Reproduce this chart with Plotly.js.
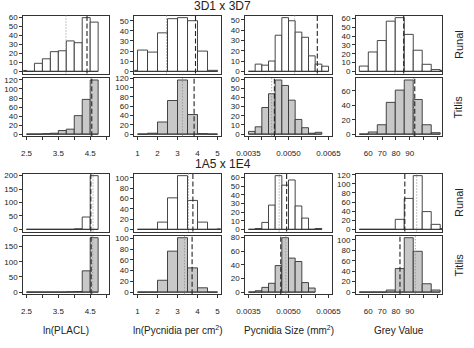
<!DOCTYPE html>
<html><head><meta charset="utf-8">
<script src="https://cdn.plot.ly/plotly-3.0.1.min.js"></script>
<style>html,body{margin:0;padding:0;background:#fff;} #chart{width:474px;height:348px;}</style>
</head><body><div id="chart"></div>
<script>
// ---- labels ----
const groupTitles = ['3D1 x 3D7', '1A5 x 1E4'];
const cultivars = ['Runal', 'Titlis'];
const traitTitles = ['ln(PLACL)', 'ln(Pycnidia per cm<sup>2</sup>)', 'Pycnidia Size (mm<sup>2</sup>)', 'Grey Value'];

// ---- bin widths (histogram breaks) ----
const placlBinWidth = 0.25;
const pycnBinWidth = 0.5;
const sizeBinWidth = 0.00025;
const greyBinWidth = 6.5;

// ---- histogram counts (left edge of first bin + counts) ----
const placl_3D1_Runal_start = 2.25;
const placl_3D1_Runal = [1, 0, 9, 14, 22, 23, 34, 32, 60, 55];
const placl_3D1_Titlis_start = 2.5;
const placl_3D1_Titlis = [0, 0, 1, 2, 8, 11, 41, 77, 120];
const placl_1A5_Runal_start = 2.5;
const placl_1A5_Runal = [0, 0, 0, 0, 0, 0, 2, 46, 200];
const placl_1A5_Titlis_start = 2.5;
const placl_1A5_Titlis = [0, 0, 0, 0, 0, 1, 2, 70, 179];

const pycn_3D1_Runal_start = 0.5;
const pycn_3D1_Runal = [1, 21, 19, 38, 52, 53, 50, 20, 1];
const pycn_3D1_Titlis_start = 1.0;
const pycn_3D1_Titlis = [0, 2, 26, 72, 116, 42, 1, 0];
const pycn_1A5_Runal_start = 1.0;
const pycn_1A5_Runal = [0, 0, 14, 61, 104, 56, 14, 0, 1];
const pycn_1A5_Titlis_start = 1.0;
const pycn_1A5_Titlis = [0, 0, 22, 76, 101, 45, 8, 0];

const size_3D1_Runal_start = 0.0035;
const size_3D1_Runal = [0, 7, 6, 10, 35, 52, 49, 38, 33, 15, 7, 5];
const size_3D1_Titlis_start = 0.0035;
const size_3D1_Titlis = [3, 8, 29, 44, 59, 53, 37, 16, 7, 1, 2];
const size_1A5_Runal_start = 0.0035;
const size_1A5_Runal = [0, 1, 8, 28, 62, 51, 57, 27, 13, 0, 1];
const size_1A5_Titlis_start = 0.0035;
const size_1A5_Titlis = [0, 2, 7, 13, 39, 80, 50, 45, 14, 6];

const grey_3D1_Runal_start = 53.5;
const grey_3D1_Runal = [6, 22, 35, 57, 61, 42, 24, 8, 2, 1];
const grey_3D1_Titlis_start = 53.5;
const grey_3D1_Titlis = [0, 3, 13, 44, 61, 75, 48, 13, 2];
const grey_1A5_Runal_start = 53.5;
const grey_1A5_Runal = [0, 0, 0, 0, 22, 68, 118, 39, 11, 2];
const grey_1A5_Titlis_start = 53.5;
const grey_1A5_Titlis = [0, 0, 0, 4, 45, 104, 78, 16, 4];

// ---- reference lines (dotted grey, dashed dark) per panel, row order: 3D1 Runal, 3D1 Titlis, 1A5 Runal, 1A5 Titlis ----
const placlDotted = [3.74, 4.52, 4.59, 4.58];
const placlDashed = [4.40, 4.55, 4.52, 4.53];
const pycnDotted = [2.45, 3.25, 3.55, 3.35];
const pycnDashed = [3.90, 3.83, 3.77, 3.73];
const sizeDotted = [0.00523, 0.00437, 0.00465, 0.00490];
const sizeDashed = [0.00608, 0.00447, 0.00493, 0.00471];
const greyDotted = [79.2, 92.6, 95.0, 94.0];
const greyDashed = [85.6, 93.6, 86.4, 82.9];

// ---- axes ----
const xRanges = [[2.4, 5.1], [0.84, 5.16], [0.00338, 0.00662], [51.1, 113.3]];
const xTickVals = [
  [2.5, 3.0, 3.5, 4.0, 4.5, 5.0],
  [1, 2, 3, 4, 5],
  [0.0035, 0.0040, 0.0045, 0.0050, 0.0055, 0.0060, 0.0065],
  [60, 70, 80, 90, 100, 110]
];
const xTickText = [
  ['2.5', '', '3.5', '', '4.5', ''],
  ['1', '2', '3', '4', '5'],
  ['0.0035', '', '', '0.0050', '', '', '0.0065'],
  ['60', '70', '80', '90', '', '']
];
const yDticks = [
  [10, 10, 10, 10],
  [20, 20, 10, 20],
  [50, 20, 10, 20],
  [50, 20, 20, 20]
];

// ---- assemble panels ----
const binWidths = [placlBinWidth, pycnBinWidth, sizeBinWidth, greyBinWidth];
const counts = [
  [placl_3D1_Runal, pycn_3D1_Runal, size_3D1_Runal, grey_3D1_Runal],
  [placl_3D1_Titlis, pycn_3D1_Titlis, size_3D1_Titlis, grey_3D1_Titlis],
  [placl_1A5_Runal, pycn_1A5_Runal, size_1A5_Runal, grey_1A5_Runal],
  [placl_1A5_Titlis, pycn_1A5_Titlis, size_1A5_Titlis, grey_1A5_Titlis]
];
const starts = [
  [placl_3D1_Runal_start, pycn_3D1_Runal_start, size_3D1_Runal_start, grey_3D1_Runal_start],
  [placl_3D1_Titlis_start, pycn_3D1_Titlis_start, size_3D1_Titlis_start, grey_3D1_Titlis_start],
  [placl_1A5_Runal_start, pycn_1A5_Runal_start, size_1A5_Runal_start, grey_1A5_Runal_start],
  [placl_1A5_Titlis_start, pycn_1A5_Titlis_start, size_1A5_Titlis_start, grey_1A5_Titlis_start]
];
const dotted = [placlDotted, pycnDotted, sizeDotted, greyDotted];
const dashed = [placlDashed, pycnDashed, sizeDashed, greyDashed];

const W = 474, H = 348;
const colPx = [[23.3, 109.3], [134.3, 220.7], [245.3, 331.7], [356, 442]];
const rowPx = [[15.5, 73.5], [77.8, 136.3], [173.5, 231.5], [235.5, 294.3]];
const fills = ['#ffffff', '#c8c8c8'];
const ink = '#333333';
const FONT = 'Liberation Sans, Arial, Helvetica, sans-serif';
const TICK = 8;

const traces = [];
const shapes = [];
const layout = {
  width: W, height: H, autosize: false,
  margin: {l: 0, r: 0, t: 0, b: 0},
  paper_bgcolor: '#ffffff', plot_bgcolor: '#ffffff',
  showlegend: false,
  font: {family: FONT, color: '#222'},
  annotations: []
};

let k = 0;
for (let r = 0; r < 4; r++) {
  for (let c = 0; c < 4; c++) {
    k++;
    const xa = k === 1 ? 'x' : 'x' + k;
    const ya = k === 1 ? 'y' : 'y' + k;
    const w = binWidths[c];
    const cnt = counts[r][c];
    const s0 = starts[r][c];
    const centers = cnt.map((_, i) => s0 + (i + 0.5) * w);
    const maxC = Math.max(...cnt);
    traces.push({
      type: 'bar', x: centers, y: cnt, width: cnt.map(() => w),
      xaxis: xa, yaxis: ya, hoverinfo: 'skip',
      marker: {color: fills[r % 2], line: {color: ink, width: 0.9}}
    });
    traces.push({
      type: 'scatter', mode: 'lines', x: [s0, s0 + cnt.length * w], y: [0, 0],
      xaxis: xa, yaxis: ya, hoverinfo: 'skip',
      line: {color: ink, width: 0.9}
    });
    const bottom = (r % 2 === 1);
    layout[k === 1 ? 'xaxis' : 'xaxis' + k] = {
      domain: [colPx[c][0] / W, colPx[c][1] / W],
      range: xRanges[c], anchor: ya,
      showline: true, mirror: true, linecolor: ink, linewidth: 1,
      showgrid: false, zeroline: false,
      ticks: bottom ? 'outside' : '', ticklen: 3, tickwidth: 1, tickcolor: ink,
      tickmode: 'array', tickvals: xTickVals[c], ticktext: xTickText[c],
      tickangle: 0, automargin: false,
      showticklabels: bottom, ticklabelstandoff: 6,
      tickfont: {size: TICK, color: '#222', family: FONT}, fixedrange: true
    };
    layout[k === 1 ? 'yaxis' : 'yaxis' + k] = {
      domain: [1 - rowPx[r][1] / H, 1 - rowPx[r][0] / H],
      range: [-0.04 * maxC, 1.04 * maxC], anchor: xa,
      showline: true, mirror: true, linecolor: ink, linewidth: 1,
      showgrid: false, zeroline: false,
      ticks: 'outside', ticklen: 3, tickwidth: 1, tickcolor: ink,
      tick0: 0, dtick: yDticks[r][c], tickangle: 0, automargin: false,
      tickfont: {size: TICK, color: '#222', family: FONT}, fixedrange: true
    };
    const yd = (k === 1 ? 'y' : 'y' + k) + ' domain';
    shapes.push({type: 'line', xref: xa, yref: yd, x0: dotted[c][r], x1: dotted[c][r], y0: 0, y1: 1,
      line: {color: '#8a8a8a', width: 1, dash: '1px,2px'}});
    shapes.push({type: 'line', xref: xa, yref: yd, x0: dashed[c][r], x1: dashed[c][r], y0: 0, y1: 1,
      line: {color: '#222', width: 1.1, dash: '5px,2.5px'}});
  }
}
layout.shapes = shapes;

// group titles
const titleY = [6, 164];
groupTitles.forEach((t, g) => {
  layout.annotations.push({text: t, xref: 'paper', yref: 'paper', x: 222.5 / W, y: 1 - titleY[g] / H,
    xanchor: 'center', yanchor: 'middle', showarrow: false, font: {size: 12, color: '#222', family: FONT}});
});
// right-hand cultivar labels
for (let r = 0; r < 4; r++) {
  const yc = (rowPx[r][0] + rowPx[r][1]) / 2;
  layout.annotations.push({text: cultivars[r % 2], xref: 'paper', yref: 'paper', x: 458.5 / W, y: 1 - yc / H,
    xanchor: 'center', yanchor: 'middle', textangle: -90, showarrow: false, font: {size: 11, color: '#222', family: FONT}});
}
// axis titles
for (let c = 0; c < 4; c++) {
  const xc = (colPx[c][0] + colPx[c][1]) / 2;
  layout.annotations.push({text: traitTitles[c], xref: 'paper', yref: 'paper', x: xc / W, y: 1 - 330 / H,
    xanchor: 'center', yanchor: 'middle', showarrow: false, font: {size: 10, color: '#222', family: FONT}});
}

Plotly.newPlot('chart', traces, layout, {staticPlot: true, displayModeBar: false});
</script>
</body></html>
